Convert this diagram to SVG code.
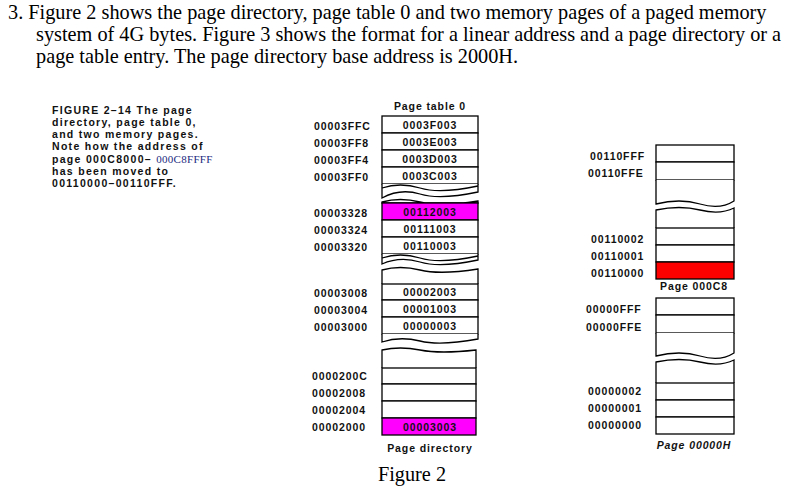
<svg xmlns="http://www.w3.org/2000/svg" width="805" height="496" viewBox="0 0 805 496">
<style>
.t{font-family:"Liberation Serif",serif;font-size:20.3px;fill:#000}
.a{font-family:"Liberation Sans",Arial,sans-serif;font-size:10.5px;letter-spacing:0.9px;font-weight:bold;fill:#111}
.c{font-family:"Liberation Sans",Arial,sans-serif;font-size:10.5px;letter-spacing:0.9px;font-weight:bold;fill:#111;text-anchor:middle}
.b{fill:#fff;stroke:#000;stroke-width:1.3}
.w{fill:none;stroke:#000;stroke-width:1.3}
.m{fill:#ff00ff;stroke:#000;stroke-width:1.3}
.r{fill:#ff0000;stroke:#000;stroke-width:1.3}
</style>
<rect width="805" height="496" fill="#fff"/>
<g id="header">
<text class="t" x="8" y="19">3.  Figure 2 shows the page directory, page table 0 and two memory pages of a paged memory</text>
<text class="t" x="36" y="41">system of 4G bytes. Figure 3 shows the format for a linear address and a page directory or a</text>
<text class="t" x="36" y="63">page table entry. The page directory base address is 2000H.</text>
</g>
<g id="caption" font-family="Liberation Sans,Arial,sans-serif" font-size="10.5" letter-spacing="1.3" font-weight="bold" fill="#111">
<text x="52" y="114">FIGURE 2–14    The page</text>
<text x="52" y="126">directory, page table 0,</text>
<text x="52" y="138">and two memory pages.</text>
<text x="52" y="150">Note how the address of</text>
<text x="52" y="163">page 000C8000–  <tspan font-family="Liberation Serif,serif" font-weight="normal" fill="#1a2a80" font-size="11" letter-spacing="0.3">000C8FFFF</tspan></text>
<text x="52" y="175">has been moved to</text>
<text x="52" y="187">00110000–00110FFF.</text>
</g>
<g id="pagetable0">
<text class="c" x="430" y="110">Page table 0</text>
<rect class="b" x="382" y="116" width="96" height="17"/><rect class="b" x="382" y="133" width="96" height="17"/>
<rect class="b" x="382" y="150" width="96" height="17"/><rect class="b" x="382" y="167" width="96" height="17"/>
<path class="b" d="M382 184 V198 Q400 188 420 194 T478 192 V184"/>
<path class="w" d="M382 188 Q400 182 420 188 T478 186"/>
<text class="c" x="430" y="129">0003F003</text><text class="c" x="430" y="146">0003E003</text>
<text class="c" x="430" y="163">0003D003</text><text class="c" x="430" y="180">0003C003</text>
<text class="a" x="314" y="130">00003FFC</text><text class="a" x="314" y="147">00003FF8</text>
<text class="a" x="314" y="164">00003FF4</text><text class="a" x="314" y="181">00003FF0</text>
<path class="b" d="M382 203 V202 Q400 197 420 202 T478 201 V203 Z"/>
<rect class="m" x="382" y="203" width="96" height="17"/><rect class="b" x="382" y="220" width="96" height="17"/>
<rect class="b" x="382" y="237" width="96" height="17"/>
<path class="b" d="M382 254 V264 Q400 256 420 262 T478 260 V254"/>
<path class="w" d="M382 258 Q400 252 420 258 T478 256"/>
<text class="c" x="430" y="216">00112003</text><text class="c" x="430" y="233">00111003</text><text class="c" x="430" y="250">00110003</text>
<text class="a" x="314" y="217">00003328</text><text class="a" x="314" y="234">00003324</text><text class="a" x="314" y="251">00003320</text>
<path class="b" d="M382 284 V270 Q400 265 420 270 T478 269 V284"/>
<rect class="b" x="382" y="284" width="96" height="16"/><rect class="b" x="382" y="300" width="96" height="17"/>
<rect class="b" x="382" y="317" width="96" height="17"/>
<path class="b" d="M382 334 V342 Q400 336 420 341 T478 339 V334"/>
<text class="c" x="430" y="296">00002003</text><text class="c" x="430" y="313">00001003</text><text class="c" x="430" y="330">00000003</text>
<text class="a" x="314" y="297">00003008</text><text class="a" x="314" y="314">00003004</text><text class="a" x="314" y="331">00003000</text>
</g>
<g id="pagedirectory">
<path class="b" d="M382 368 V350 Q400 346 420 350 T476 350 V368"/>
<rect class="b" x="382" y="368" width="94" height="16"/><rect class="b" x="382" y="384" width="94" height="17"/>
<rect class="b" x="382" y="401" width="94" height="17"/><rect class="m" x="382" y="418" width="94" height="17"/>
<text class="c" x="430" y="431">00003003</text>
<text class="a" x="312" y="380">0000200C</text><text class="a" x="312" y="397">00002008</text>
<text class="a" x="312" y="414">00002004</text><text class="a" x="312" y="431">00002000</text>
<text class="c" x="430" y="452">Page directory</text>
</g>
<g id="page000C8">
<rect class="b" x="656" y="145" width="78" height="17"/><rect class="b" x="656" y="162" width="78" height="18"/>
<path class="b" d="M656 180 V204 Q680 198 700 204 T734 201 V180"/>
<text class="a" x="590" y="160">00110FFF</text><text class="a" x="588" y="177">00110FFE</text>
<path class="b" d="M656 228 V210 Q680 205 700 210 T734 208 V228"/>
<rect class="b" x="656" y="228" width="78" height="17"/><rect class="b" x="656" y="245" width="78" height="17"/>
<rect class="r" x="656" y="262" width="78" height="17"/>
<text class="a" x="591" y="243">00110002</text><text class="a" x="591" y="260">00110001</text><text class="a" x="591" y="277">00110000</text>
<text class="c" x="694" y="290">Page 000C8</text>
</g>
<g id="page00000">
<rect class="b" x="656" y="298" width="78" height="17"/><rect class="b" x="656" y="315" width="78" height="18"/>
<path class="b" d="M656 333 V356 Q680 350 700 356 T734 353 V333"/>
<text class="a" x="586" y="313">00000FFF</text><text class="a" x="586" y="331">00000FFE</text>
<path class="b" d="M656 383 V362 Q680 357 700 362 T734 360 V383"/>
<rect class="b" x="656" y="383" width="78" height="17"/><rect class="b" x="656" y="400" width="78" height="17"/>
<rect class="b" x="656" y="417" width="78" height="17"/>
<text class="a" x="588" y="395">00000002</text><text class="a" x="588" y="412">00000001</text><text class="a" x="588" y="429">00000000</text>
<text class="c" x="694" y="449" font-style="italic">Page 00000H</text>
</g>
<g id="connectors"></g>
<text class="t" x="412" y="481" text-anchor="middle">Figure 2</text>
</svg>
